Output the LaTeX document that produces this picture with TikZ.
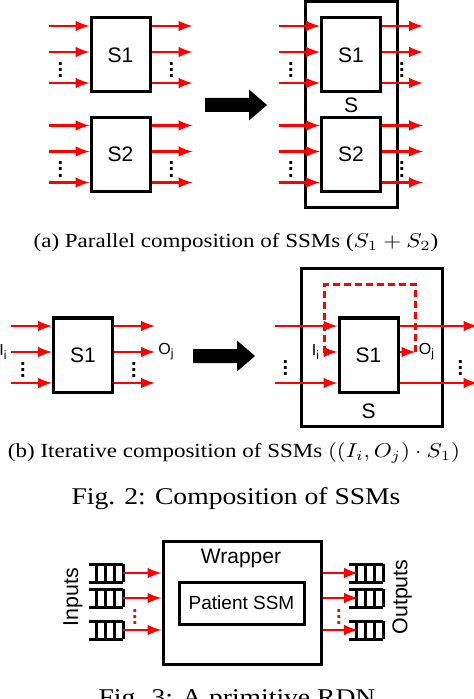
\documentclass[tikz,border=0pt]{standalone}
\usepackage{graphicx}
\usepackage{fontspec}
\setmainfont{Liberation Serif}
\setsansfont{Liberation Sans}
\usetikzlibrary{calc}

\newcommand\vdts{\vbox{\baselineskip3.2pt\lineskiplimit0pt\hbox{.}\hbox{.}\hbox{.}}}

\begin{document}
\begin{tikzpicture}[x=0.5pt,y=-0.5pt,
  ssm/.style={draw, line width=1.5pt, minimum width=29.5pt, minimum height=37pt,
    inner sep=0pt, font=\sffamily\fontsize{10.5}{12}\selectfont},
  frame/.style={draw, line width=1.5pt, inner sep=0pt},
  sig/.style={-latex, red, line width=1.4pt},
  fb/.style={dash pattern=on 3.5pt off 2pt},
  lbl/.style={font=\sffamily\fontsize{10.5}{12}\selectfont, inner sep=0pt},
  sub/.style={font=\sffamily\fontsize{8}{9}\selectfont, inner sep=1.5pt},
  dts/.style={font=\sffamily\bfseries\fontsize{10}{12}\selectfont, inner sep=0pt},
  qline/.style={line width=1.5pt},
  capt/.style={font=\fontsize{10}{12}\selectfont, inner sep=0pt}]

  \useasboundingbox (0,0) rectangle (474,699);

  % outer boxes
  \node[frame, minimum width=46pt, minimum height=103pt] (sa) at (351,105) {};
  \node[frame, minimum width=70.5pt, minimum height=78.5pt] (sb) at (371.5,347.5) {};
  \node[lbl] (sal) at (351,105) {S};

  % (a) parallel composition, (b) single box
  \node[ssm] (a1) at (120.5,55) {S1};
  \node[ssm] (a2) at (120.5,154.5) {S2};
  \node[ssm] (b1) at (351,55) {S1};
  \node[ssm] (b2) at (351,154.5) {S2};
  \node[ssm] (c1) at (83,355) {S1};

  \foreach \bx in {a1,a2,b1,b2,c1}
  {
    \foreach \dy [count=\k] in {-29,-3,28}
    {
      \coordinate (\bx i\k) at ($(\bx.west)+(-41,\dy)$);
      \coordinate (\bx o\k) at ($(\bx.east)+(41,\dy)$);
      \draw[sig] (\bx i\k) -- (\bx i\k -| \bx.west);
      \draw[sig] (\bx i\k -| \bx.east) -- (\bx o\k);
    }
    \node[dts] (\bx dl) at ($(\bx.west)+(-29,15)$) {\vdts};
    \node[dts] (\bx dr) at ($(\bx.east)+(20,15)$) {\vdts};
  }

  \node[sub, left] (ii) at (c1i2) {I\textsubscript{i}};
  \node[sub, right] (oj) at (c1o2) {O\textsubscript{j}};

  % big arrows
  \foreach \ax/\ay in {205/105,193/356}
    \fill (\ax,\ay-7) -- ++(44,0) -- ++(0,-8.5) -- ++(18,15.5) -- ++(-18,15.5)
      -- ++(0,-8.5) -- ++(-44,0) -- cycle;

  % (b) iterative composition
  \node[ssm] (d1) at (368.5,355) {S1};
  \node[lbl] (sbl) at ($(d1.south)+(0,18)$) {S};
  \foreach \dy [count=\k] in {-29,28}
  {
    \coordinate (d1i\k) at ($(d1.west)+(-63,\dy)$);
    \coordinate (d1o\k) at ($(d1.east)+(78,\dy)$);
    \draw[sig] (d1i\k) -- (d1i\k -| d1.west);
    \draw[sig] (d1i\k -| d1.east) -- (d1o\k);
  }
  \node[dts] (d1dl) at ($(d1.west)+(-52,13)$) {\vdts};
  \node[dts] (d1dr) at ($(d1.east)+(61,13)$) {\vdts};

  % feedback loop
  \coordinate (lpl) at ($(d1.west)+(-13,-3)$);
  \coordinate (lpr) at ($(d1.east)+(16,-3)$);
  \coordinate (lpt) at ($(d1.north)+(0,-32)$);
  \draw[sig] (lpr -| d1.east) -- (lpr);
  \draw[sig, fb] (lpr) -- (lpr |- lpt) -- (lpl |- lpt) -- (lpl) -- (lpl -| d1.west);
  \node[sub, left, inner sep=2pt] (ii2) at (lpl) {I\textsubscript{i}};
  \node[sub, right] (oj2) at (lpr) {O\textsubscript{j}};

  % primitive RDN
  \node[frame, minimum width=79pt, minimum height=61.5pt] (wrap) at (242,602.5) {};
  \node[lbl] (wlbl) at (241,558) {Wrapper};
  \node[frame, minimum width=62.5pt, minimum height=21pt,
    font=\sffamily\fontsize{9.5}{11}\selectfont] (pat) at (241.5,603) {Patient SSM};

  \foreach \qy [count=\k] in {573,598,630}
  {
    \foreach \qx in {89,349}
    {
      \draw[qline] (\qx,\qy-9) -- ++(34,0) (\qx,\qy+9) -- ++(34,0);
      \foreach \qb in {7,16,25,34}
        \draw[qline] (\qx+\qb,\qy-9) -- ++(0,18);
    }
    \coordinate (qi\k) at (123,\qy);
    \coordinate (qo\k) at (358,\qy);
    \draw[sig] (qi\k) -- (qi\k -| wrap.west);
    \draw[sig] (qi\k -| wrap.east) -- (qo\k);
  }
  \node[dts, red] (qdl) at (135,617) {\vdts};
  \node[dts, red] (qdr) at (339,617) {\vdts};
  \node[lbl, rotate=90, font=\sffamily\fontsize{10.7}{12}\selectfont] (inl) at (73,597) {Inputs};
  \node[lbl, rotate=90, font=\sffamily\fontsize{10.7}{12}\selectfont] (outl) at (402,597) {Outputs};

  % captions
  \node[capt] (capa) at (236,243) {\scalebox{1.15}[1]{(a) Parallel composition of SSMs ($S_1+S_2$)}};
  \node[capt] (capb) at (234,452.5) {\scalebox{1.15}[1]{(b) Iterative composition of SSMs $((I_i,O_j)\cdot S_1)$}};
  \node[capt, font=\fontsize{12}{14}\selectfont] (fig2) at (236,499) {\scalebox{1.15}[1]{Fig. 2: Composition of SSMs}};
  \node[capt, font=\fontsize{12}{14}\selectfont, anchor=base] (fig3) at (237,705) {\scalebox{1.15}[1]{Fig. 3: A primitive RDN}};
\end{tikzpicture}
\end{document}
